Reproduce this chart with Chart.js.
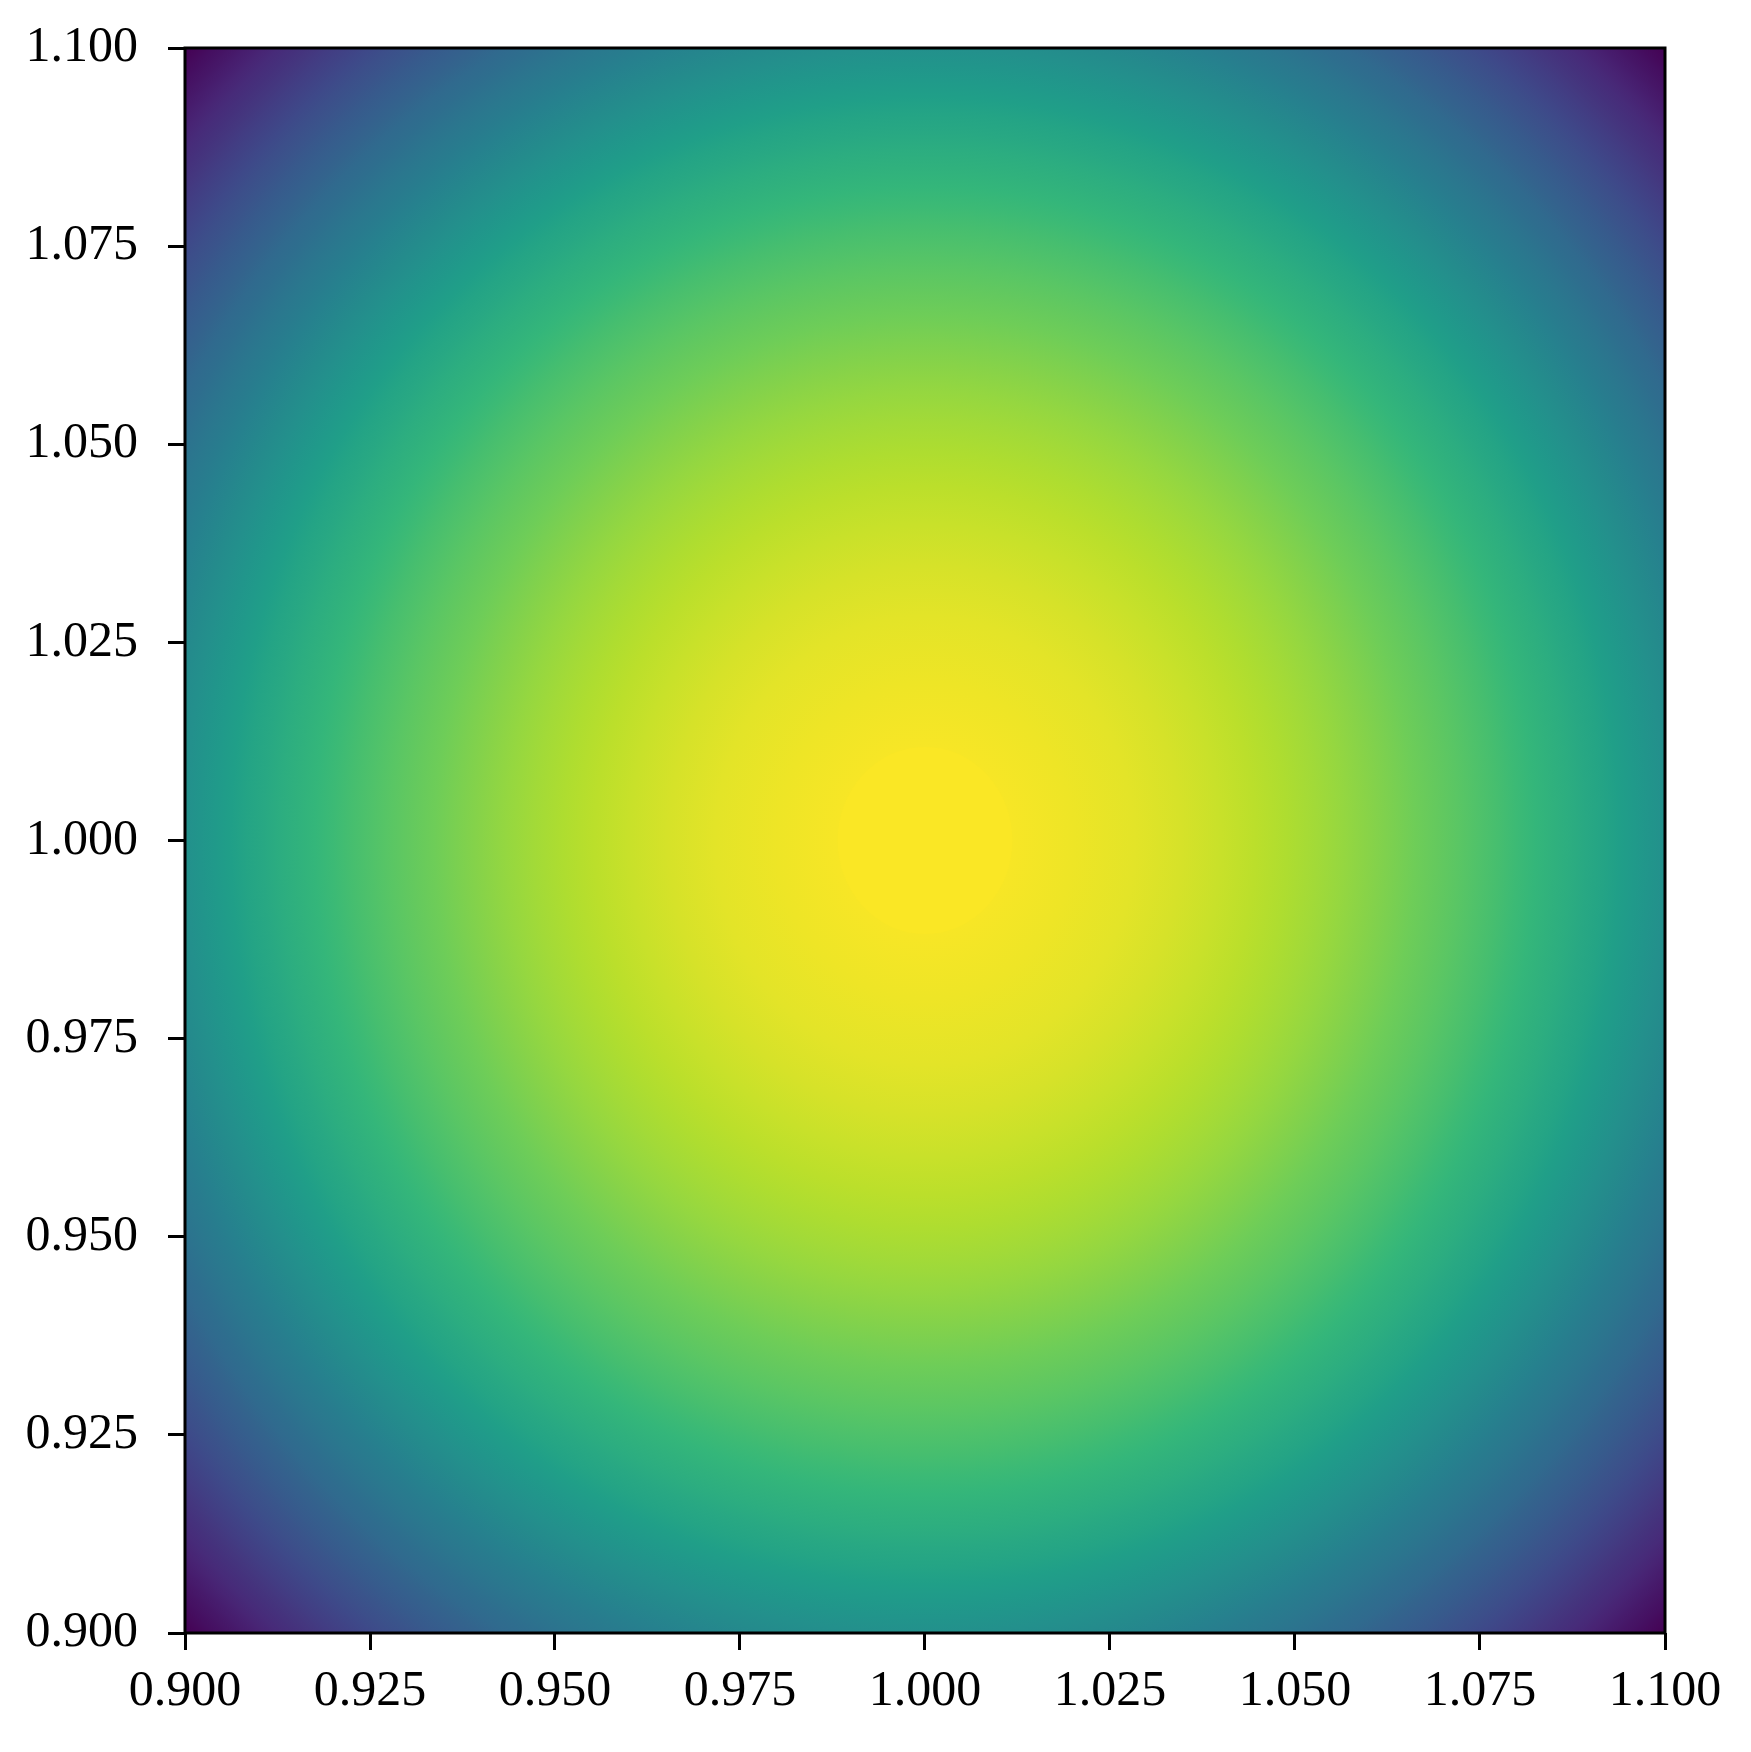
<!DOCTYPE html>
<html>
<head>
<meta charset="utf-8">
<script src="https://cdn.jsdelivr.net/npm/chart.js@4.4.1/dist/chart.umd.min.js"></script>
<style>
  html, body { margin: 0; padding: 0; background: #fff; }
</style>
</head>
<body>
<canvas id="chart" width="1751" height="1752"></canvas>
<script>
// axis ticks
const xTicks = [0.900, 0.925, 0.950, 0.975, 1.000, 1.025, 1.050, 1.075, 1.100];
const yTicks = [0.900, 0.925, 0.950, 0.975, 1.000, 1.025, 1.050, 1.075, 1.100];

// peak of the field
const peakX = 1.000;
const peakY = 1.000;

// filled contour bands: outer radius of each band (data units) and its normalised level
const ringRadius = [0.0118, 0.0200, 0.0283, 0.0346, 0.0400, 0.0447, 0.0490, 0.0529, 0.0566, 0.0600,
  0.0632, 0.0663, 0.0693, 0.0721, 0.0748, 0.0775, 0.0800, 0.0825, 0.0849, 0.0872,
  0.0894, 0.0917, 0.0938, 0.0959, 0.0980, 0.1000, 0.1020, 0.1039, 0.1058, 0.1077,
  0.1095, 0.1114, 0.1131, 0.1149, 0.1166, 0.1183, 0.1200, 0.1217, 0.1233, 0.1249,
  0.1265, 0.1281, 0.1296, 0.1311, 0.1327, 0.1342, 0.1356, 0.1371, 0.1386, 0.1400, 0.1415];
const ringValue = [0.996, 0.985, 0.97, 0.95, 0.93, 0.91, 0.89, 0.87, 0.85, 0.83,
  0.81, 0.79, 0.77, 0.75, 0.73, 0.71, 0.69, 0.67, 0.65, 0.63,
  0.61, 0.59, 0.57, 0.55, 0.53, 0.51, 0.49, 0.47, 0.45, 0.43,
  0.41, 0.39, 0.37, 0.35, 0.33, 0.31, 0.29, 0.27, 0.25, 0.23,
  0.21, 0.19, 0.17, 0.15, 0.13, 0.11, 0.09, 0.07, 0.05, 0.03, 0.01];

// viridis colour map
const viridisStops = ['#440154', '#482878', '#3e4a89', '#31688e', '#26828e',
  '#1f9e89', '#35b779', '#6dcd59', '#b4de2c', '#fde725'];

function hexRgb(h){
    return [parseInt(h.substr(1, 2), 16), parseInt(h.substr(3, 2), 16), parseInt(h.substr(5, 2), 16)];
}

function viridis(t){
    t = Math.max(0, Math.min(1, t));
    const n = viridisStops.length - 1;
    const i = Math.min(n - 1, Math.floor(t * n));
    const f = t * n - i;
    const a = hexRgb(viridisStops[i]), b = hexRgb(viridisStops[i + 1]);
    const c = a.map((v, k) => Math.round(v + (b[k] - v) * f));
    return `rgb(${c[0]},${c[1]},${c[2]})`;
}

// level on the edge between band i and band i+1
function edgeValue(i){
    if (i + 1 < ringValue.length) return (ringValue[i] + ringValue[i + 1]) / 2;
    return Math.max(0, ringValue[i] - (ringValue[i - 1] - ringValue[i]) / 2);
}

const heatRings = {
    id: "heatRings",
    beforeDatasetsDraw(chart){
        const {ctx, chartArea: a, scales: {x, y}} = chart;
        const cx = x.getPixelForValue(peakX);
        const cy = y.getPixelForValue(peakY);
        const sx = Math.abs(x.getPixelForValue(peakX + 0.1) - cx) / 0.1;
        const sy = Math.abs(y.getPixelForValue(peakY + 0.1) - cy) / 0.1;
        ctx.save();
        ctx.beginPath();
        ctx.rect(a.left, a.top, a.right - a.left, a.bottom - a.top);
        ctx.clip();
        ctx.fillStyle = viridis(0);
        ctx.fillRect(a.left, a.top, a.right - a.left, a.bottom - a.top);
        // work in x-pixel units, squash vertically so circles in data space become ellipses
        ctx.translate(cx, cy);
        ctx.scale(1, sy / sx);
        for (let i = ringRadius.length - 1; i >= 0; i--) {
            const rOut = ringRadius[i] * sx;
            if (i === 0) {
                ctx.fillStyle = viridis(ringValue[0]);
            } else {
                const rIn = ringRadius[i - 1] * sx;
                const g = ctx.createRadialGradient(0, 0, rIn, 0, 0, rOut);
                g.addColorStop(0, viridis(edgeValue(i - 1)));
                g.addColorStop(1, viridis(edgeValue(i)));
                ctx.fillStyle = g;
            }
            ctx.beginPath();
            ctx.arc(0, 0, rOut, 0, 2 * Math.PI);
            ctx.fill();
        }
        ctx.restore();
    }
};

const frameBox = {
    id: "frameBox",
    afterDraw(chart){
        const {ctx, chartArea: a} = chart;
        ctx.save();
        ctx.strokeStyle = "#000";
        ctx.lineWidth = 3;
        ctx.strokeRect(a.left, a.top, a.right - a.left, a.bottom - a.top);
        ctx.restore();
    }
};

const tickFont = {family: "'Liberation Serif', 'DejaVu Serif', serif", size: 50};

new Chart(document.getElementById("chart"), {
    type: "scatter",
    data: {datasets: []},
    plugins: [heatRings, frameBox],
    options: {
        responsive: false,
        devicePixelRatio: 1,
        animation: false,
        layout: {padding: {top: 48, right: 86, left: 0, bottom: 0}},
        plugins: {legend: {display: false}, tooltip: {enabled: false}},
        scales: {
            x: {
                type: "linear",
                min: 0.9,
                max: 1.1,
                afterBuildTicks: s => { s.ticks = xTicks.map(v => ({value: v})); },
                afterFit: s => { s.height = 119; s.paddingLeft = 0; s.paddingRight = 0; },
                border: {display: false},
                grid: {display: true, drawOnChartArea: false, drawTicks: true,
                       tickLength: 17, tickWidth: 3, color: "#000"},
                ticks: {color: "#000", font: tickFont, padding: 12, maxRotation: 0,
                        autoSkip: false, callback: v => v.toFixed(3)}
            },
            y: {
                type: "linear",
                min: 0.9,
                max: 1.1,
                afterBuildTicks: s => { s.ticks = yTicks.map(v => ({value: v})); },
                afterFit: s => { s.width = 185; s.paddingTop = 0; s.paddingBottom = 0; },
                border: {display: false},
                grid: {display: true, drawOnChartArea: false, drawTicks: true,
                       tickLength: 17, tickWidth: 3, color: "#000"},
                ticks: {color: "#000", font: tickFont, padding: 30,
                        autoSkip: false, callback: v => v.toFixed(3)}
            }
        }
    }
});
</script>
</body>
</html>
